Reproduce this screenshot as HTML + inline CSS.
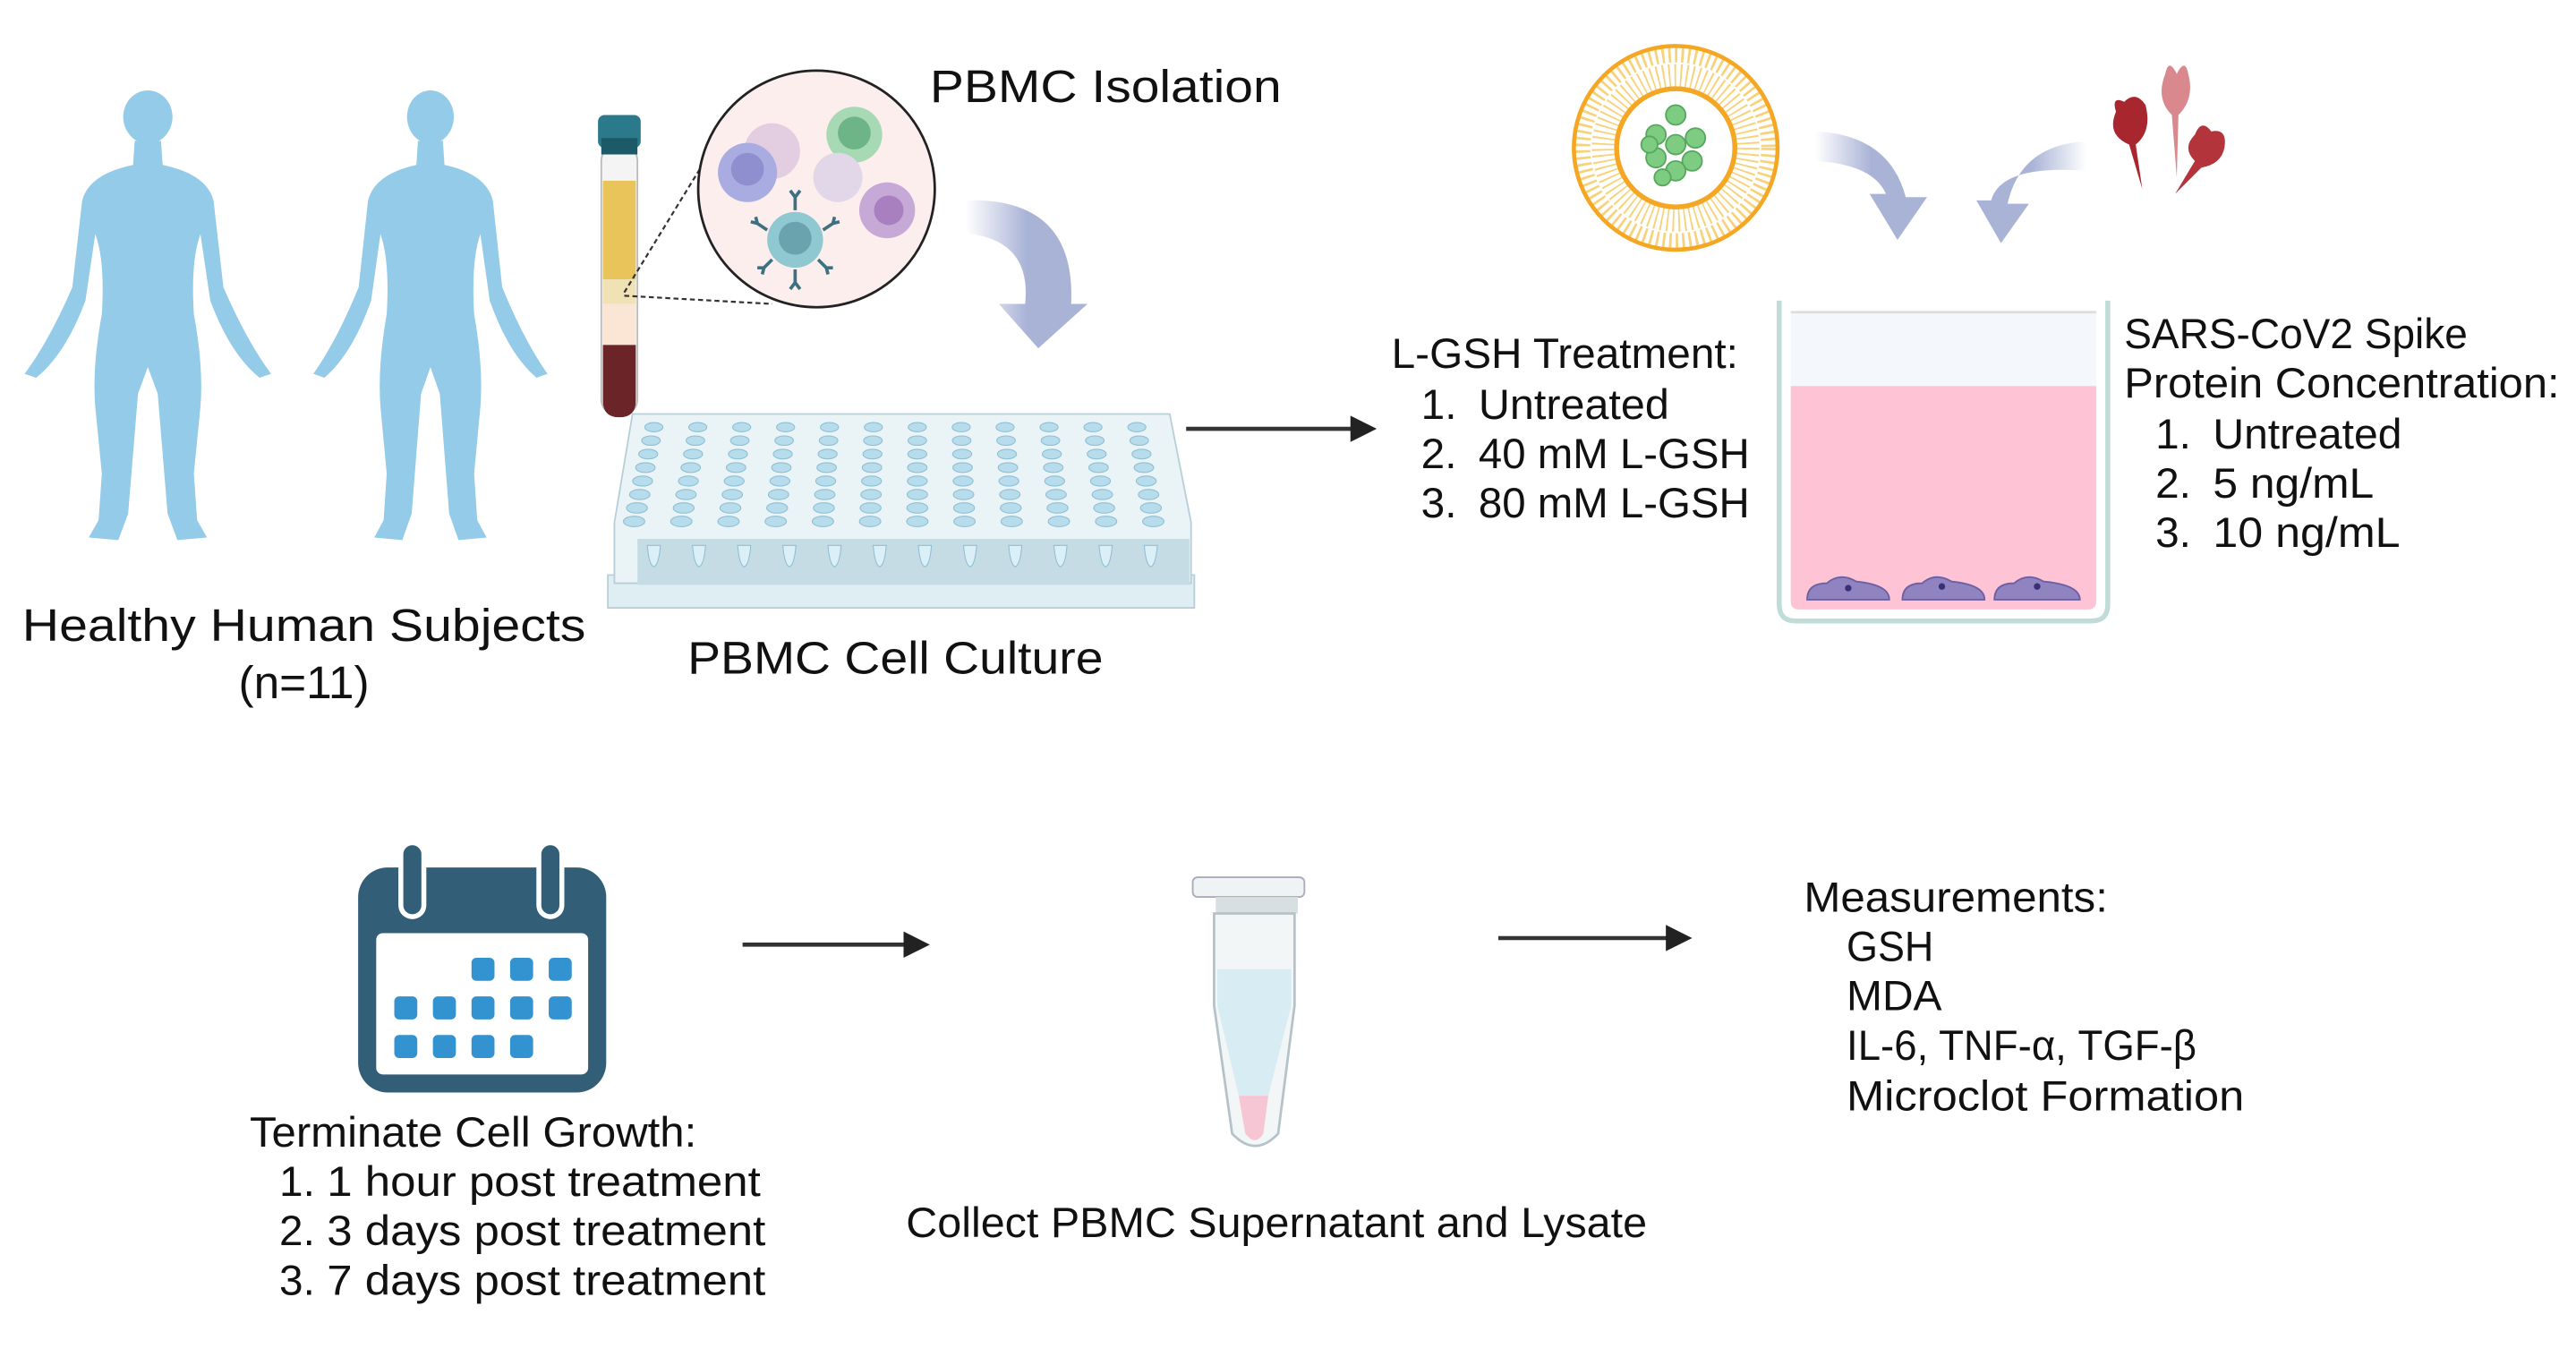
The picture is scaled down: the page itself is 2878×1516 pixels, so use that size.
<!DOCTYPE html>
<html><head><meta charset="utf-8"><style>
html,body{margin:0;padding:0;background:#fff;}
svg{display:block;}
text{font-family:"Liberation Sans",sans-serif;fill:#111;}
</style></head><body>
<svg id="s" width="2878" height="1516" viewBox="0 0 1568 826" preserveAspectRatio="none" xmlns="http://www.w3.org/2000/svg">
<defs>
<linearGradient id="lv1" x1="0" y1="0" x2="1" y2="0"><stop offset="0" stop-color="#a9b3d6" stop-opacity="0"/><stop offset="0.5" stop-color="#a9b3d6"/></linearGradient>
<linearGradient id="lv2" x1="1" y1="0" x2="0" y2="0"><stop offset="0" stop-color="#a9b3d6" stop-opacity="0"/><stop offset="0.5" stop-color="#a9b3d6"/></linearGradient>
<g id="person">
<ellipse cx="0" cy="-248" rx="15" ry="20"/>
<path d="M-8,-230 L8,-230 L9,-212 Q36,-205 40,-185 L46,-120 Q60,-80 75,-55 L68,-52 Q50,-70 38,-110 L32,-160 Q26,-140 28,-100 Q34,-60 32,-30 L28,20 L30,55 L36,68 L18,70 L12,50 L6,-40 L0,-60 L-6,-40 L-12,50 L-18,70 L-36,68 L-30,55 L-28,20 L-32,-30 Q-34,-60 -28,-100 Q-26,-140 -32,-160 L-38,-110 Q-50,-70 -68,-52 L-75,-55 Q-60,-80 -46,-120 L-40,-185 Q-36,-205 -9,-212 Z"/>
</g>
</defs>

<!-- humans -->
<g fill="#93cbe9">
<g transform="translate(90,55) scale(1,0.81) translate(0,268)"><use href="#person"/></g>
<g transform="translate(262,55) scale(0.95,0.81) translate(0,268)"><use href="#person"/></g>
</g>
<text x="185" y="390" font-size="28" text-anchor="middle" textLength="343" lengthAdjust="spacingAndGlyphs">Healthy Human Subjects</text>
<text x="185" y="425" font-size="28" text-anchor="middle">(n=11)</text>

<!-- blood tube -->
<rect x="366" y="88" width="22" height="165" rx="10" fill="#f4f4f4" stroke="#bbb" stroke-width="1"/>
<rect x="367" y="110" width="20" height="60" fill="#e8c45a"/>
<rect x="367" y="170" width="20" height="15" fill="#f0e2b4"/>
<rect x="367" y="185" width="20" height="25" fill="#fbe6d6"/>
<path d="M367,210 H387 V244 Q387,254 377,254 Q367,254 367,244 Z" fill="#6b2427"/>
<rect x="364" y="70" width="26" height="20" rx="4" fill="#2b7a8c"/>
<rect x="366" y="84" width="22" height="10" fill="#1d5a68"/>
<line x1="380" y1="178" x2="440" y2="80" stroke="#333" stroke-width="1.2" stroke-dasharray="3,2"/>
<line x1="380" y1="180" x2="470" y2="185" stroke="#333" stroke-width="1.2" stroke-dasharray="3,2"/>
<!-- magnified circle -->
<circle cx="497" cy="115" r="72" fill="#fdeeee" stroke="#222" stroke-width="1.5"/>
<circle cx="470" cy="92" r="17" fill="#dcc4dc" opacity="0.8"/>
<circle cx="455" cy="105" r="18" fill="#a9ace0"/><circle cx="455" cy="103" r="10" fill="#8f8fd0"/>
<circle cx="520" cy="82" r="17" fill="#a7d9b4"/><circle cx="520" cy="81" r="10" fill="#6db486"/>
<circle cx="510" cy="108" r="15" fill="#e1d7e8"/>
<circle cx="540" cy="128" r="17" fill="#c7a9d8"/><circle cx="541" cy="128" r="9" fill="#a880c0"/>
<circle cx="484" cy="146" r="17" fill="#8fc8d0"/><circle cx="484" cy="145" r="10" fill="#6aa2ae"/>
<g stroke="#3d7080" stroke-width="2" fill="none">
<path d="M484,128 v-8 m-3,-4 l3,4 l3,-4"/><path d="M484,164 v8 m-3,4 l3,-4 l3,4"/>
<path d="M467,140 l-6,-4 m-4,-1 l4,1 l-1,-4"/><path d="M501,140 l6,-4 m4,-1 l-4,1 l1,-4"/>
<path d="M470,158 l-5,5 m-1,4 l1,-4 l-4,0"/><path d="M498,158 l5,5 m1,4 l-1,-4 l4,0"/>
</g>
<text x="566" y="62" font-size="28" textLength="214" lengthAdjust="spacingAndGlyphs">PBMC Isolation</text>
<path d="M588,122 Q655,120 652,185 L662,185 L632,212 L608,185 L624,185 Q628,146 588,142 Z" fill="url(#lv1)"/>

<!-- plate -->
<path d="M370,350 H727 V370 H370 Z" fill="#dfeef3" stroke="#b8cfd8"/>
<path d="M385,252 H712 L725,318 V355 H374 V318 Z" fill="#eaf4f7" stroke="#b8cfd8"/>
<path d="M388,328 H724 V356 H388 Z" fill="#c6dce4"/>
<g id="wells"></g>
<text x="545" y="410" font-size="28" text-anchor="middle" textLength="253" lengthAdjust="spacingAndGlyphs">PBMC Cell Culture</text>

<line x1="722" y1="261" x2="826" y2="261" stroke="#333" stroke-width="2.5"/>
<path d="M838,261 L822,253 L822,269 Z" fill="#222"/>

<g font-size="26">
<text x="847" y="224" textLength="211" lengthAdjust="spacingAndGlyphs">L-GSH Treatment:</text>
<text x="865" y="255">1.</text><text x="900" y="255" textLength="116" lengthAdjust="spacingAndGlyphs">Untreated</text>
<text x="865" y="285">2.</text><text x="900" y="285" textLength="165" lengthAdjust="spacingAndGlyphs">40 mM L-GSH</text>
<text x="865" y="315">3.</text><text x="900" y="315" textLength="165" lengthAdjust="spacingAndGlyphs">80 mM L-GSH</text>
</g>

<!-- liposome -->
<circle cx="1020" cy="90" r="57" fill="none" stroke="#f8d27a" stroke-width="10" stroke-dasharray="1.5,2.5"/>
<circle cx="1020" cy="90" r="44" fill="none" stroke="#f8d27a" stroke-width="14" stroke-dasharray="1,2.5"/>
<circle cx="1020" cy="90" r="62" fill="none" stroke="#f5a623" stroke-width="2.5"/>
<circle cx="1020" cy="90" r="36" fill="#fff" stroke="#f5a623" stroke-width="3"/>
<g fill="#7dcc82" stroke="#55a85c" stroke-width="1">
<circle cx="1020" cy="70" r="6"/><circle cx="1008" cy="82" r="6"/><circle cx="1032" cy="84" r="6"/><circle cx="1020" cy="88" r="6"/><circle cx="1008" cy="96" r="6"/><circle cx="1030" cy="98" r="6"/><circle cx="1020" cy="104" r="6"/><circle cx="1012" cy="108" r="5"/><circle cx="1004" cy="88" r="5"/>
</g>
<path d="M1105,80 Q1150,82 1160,120 L1173,120 L1155,146 L1138,118 L1148,118 Q1140,100 1105,98 Z" fill="url(#lv1)"/>
<path d="M1270,86 Q1230,88 1222,124 L1235,124 L1218,148 L1203,122 L1212,122 Q1218,100 1270,104 Z" fill="url(#lv2)"/>
<path d="M1318,45 Q1320,35 1325,45 Q1330,35 1332,45 Q1336,60 1326,70 L1325,108 L1322,70 Q1312,60 1318,45 Z" fill="#d9898e"/>
<path d="M1288,68 Q1285,58 1293,62 Q1300,55 1306,64 Q1310,80 1300,88 L1304,115 L1296,88 Q1282,82 1288,68 Z" fill="#a8262e"/>
<path d="M1336,82 Q1340,72 1346,80 Q1356,78 1354,90 Q1352,100 1340,102 L1324,118 L1336,98 Q1328,90 1336,82 Z" fill="#b3343a"/>

<!-- well -->
<path d="M1083,183 V368 Q1083,378 1093,378 H1273 Q1283,378 1283,368 V183" fill="none" stroke="#bfdcd6" stroke-width="3"/>
<rect x="1090" y="190" width="186" height="45" fill="#f4f7fb"/>
<line x1="1090" y1="190" x2="1276" y2="190" stroke="#ddd" stroke-width="1.5"/>
<path d="M1090,235 H1276 V366 Q1276,371 1271,371 H1095 Q1090,371 1090,366 Z" fill="#fec4d6"/>
<g fill="#8f83c0" stroke="#6c5fa3" stroke-width="1">
<path d="M1100,365 Q1100,355 1112,355 Q1120,348 1130,354 Q1150,356 1150,365 Z"/>
<path d="M1158,365 Q1158,355 1170,355 Q1178,348 1188,354 Q1208,356 1208,365 Z"/>
<path d="M1214,365 Q1214,355 1226,355 Q1234,348 1244,354 Q1266,356 1266,365 Z"/>
</g>
<g fill="#3b2f7a"><circle cx="1125" cy="358" r="2"/><circle cx="1182" cy="357" r="2"/><circle cx="1240" cy="357" r="2"/></g>

<g font-size="26">
<text x="1293" y="212" textLength="209" lengthAdjust="spacingAndGlyphs">SARS-CoV2 Spike</text>
<text x="1293" y="242" textLength="265" lengthAdjust="spacingAndGlyphs">Protein Concentration:</text>
<text x="1312" y="273">1.</text><text x="1347" y="273" textLength="115" lengthAdjust="spacingAndGlyphs">Untreated</text>
<text x="1312" y="303">2.</text><text x="1347" y="303" textLength="98" lengthAdjust="spacingAndGlyphs">5 ng/mL</text>
<text x="1312" y="333">3.</text><text x="1347" y="333" textLength="114" lengthAdjust="spacingAndGlyphs">10 ng/mL</text>
</g>

<!-- calendar -->
<rect x="218" y="528" width="151" height="137" rx="18" fill="#335e78"/>
<rect x="229" y="568" width="129" height="86" rx="4" fill="#fff"/>
<rect x="244" y="513" width="14" height="45" rx="7" fill="#335e78" stroke="#fff" stroke-width="3"/>
<rect x="328" y="513" width="14" height="45" rx="7" fill="#335e78" stroke="#fff" stroke-width="3"/>
<g id="cal" fill="#3392d0"></g>

<g font-size="26">
<text x="152" y="698" textLength="272" lengthAdjust="spacingAndGlyphs">Terminate Cell Growth:</text>
<text x="170" y="728">1.</text><text x="199" y="728" textLength="264" lengthAdjust="spacingAndGlyphs">1 hour post treatment</text>
<text x="170" y="758">2.</text><text x="199" y="758" textLength="267" lengthAdjust="spacingAndGlyphs">3 days post treatment</text>
<text x="170" y="788">3.</text><text x="199" y="788" textLength="267" lengthAdjust="spacingAndGlyphs">7 days post treatment</text>
</g>

<line x1="452" y1="575" x2="554" y2="575" stroke="#333" stroke-width="2.5"/>
<path d="M566,575 L550,567 L550,583 Z" fill="#222"/>

<!-- eppendorf -->
<rect x="726" y="534" width="68" height="12" rx="3" fill="#eef3f4" stroke="#aab" stroke-width="1"/>
<rect x="740" y="546" width="50" height="10" fill="#d8dfe2"/>
<path d="M739,556 H788 V612 L778,690 Q764,705 750,690 L739,612 Z" fill="#f2f6f7" stroke="#b5c3c8" stroke-width="1.5"/>
<path d="M741,590 H786 V612 L772,667 H754 L741,612 Z" fill="#d8ecf4"/>
<path d="M754,667 H772 L769,690 Q764,698 758,690 Z" fill="#f7c6d4"/>

<text x="777" y="753" font-size="26" text-anchor="middle" textLength="451" lengthAdjust="spacingAndGlyphs">Collect PBMC Supernatant and Lysate</text>

<line x1="912" y1="571" x2="1018" y2="571" stroke="#333" stroke-width="2.5"/>
<path d="M1030,571 L1014,563 L1014,579 Z" fill="#222"/>

<g font-size="26">
<text x="1098" y="555" textLength="185" lengthAdjust="spacingAndGlyphs">Measurements:</text>
<text x="1124" y="585" textLength="53" lengthAdjust="spacingAndGlyphs">GSH</text>
<text x="1124" y="615" textLength="58" lengthAdjust="spacingAndGlyphs">MDA</text>
<text x="1124" y="645" textLength="213" lengthAdjust="spacingAndGlyphs">IL-6, TNF-α, TGF-β</text>
<text x="1124" y="676" textLength="242" lengthAdjust="spacingAndGlyphs">Microclot Formation</text>
</g>
</svg>
<script>
var NS="http://www.w3.org/2000/svg";
var w=document.getElementById("wells");
for(var r=0;r<8;r++){var y=260+r*8.2;var t=r/7;var x0=398-t*12,x1=692+t*10;
for(var c=0;c<12;c++){var e=document.createElementNS(NS,"ellipse");e.setAttribute("cx",x0+(x1-x0)*c/11);e.setAttribute("cy",y);e.setAttribute("rx",5.5+t);e.setAttribute("ry",2.8+t*0.4);e.setAttribute("fill","#b7dcec");e.setAttribute("stroke","#8fbfd4");e.setAttribute("stroke-width","0.6");w.appendChild(e);}}
for(var c=0;c<12;c++){var p=document.createElementNS(NS,"path");var x=398+c*27.5;p.setAttribute("d","M"+(x-4)+",332 L"+(x+4)+",332 Q"+(x+3)+",344 "+x+",345 Q"+(x-3)+",344 "+(x-4)+",332 Z");p.setAttribute("fill","#dbeff6");p.setAttribute("stroke","#8fbfd4");p.setAttribute("stroke-width","0.6");w.appendChild(p);}
var g=document.getElementById("cal");
var cells=[[2,0],[3,0],[4,0],[0,1],[1,1],[2,1],[3,1],[4,1],[0,2],[1,2],[2,2],[3,2]];
cells.forEach(function(a){var rr=document.createElementNS(NS,"rect");rr.setAttribute("x",240+a[0]*23.5);rr.setAttribute("y",583+a[1]*23.5);rr.setAttribute("width",14);rr.setAttribute("height",14);rr.setAttribute("rx",3);g.appendChild(rr);});
</script>
</body></html>
